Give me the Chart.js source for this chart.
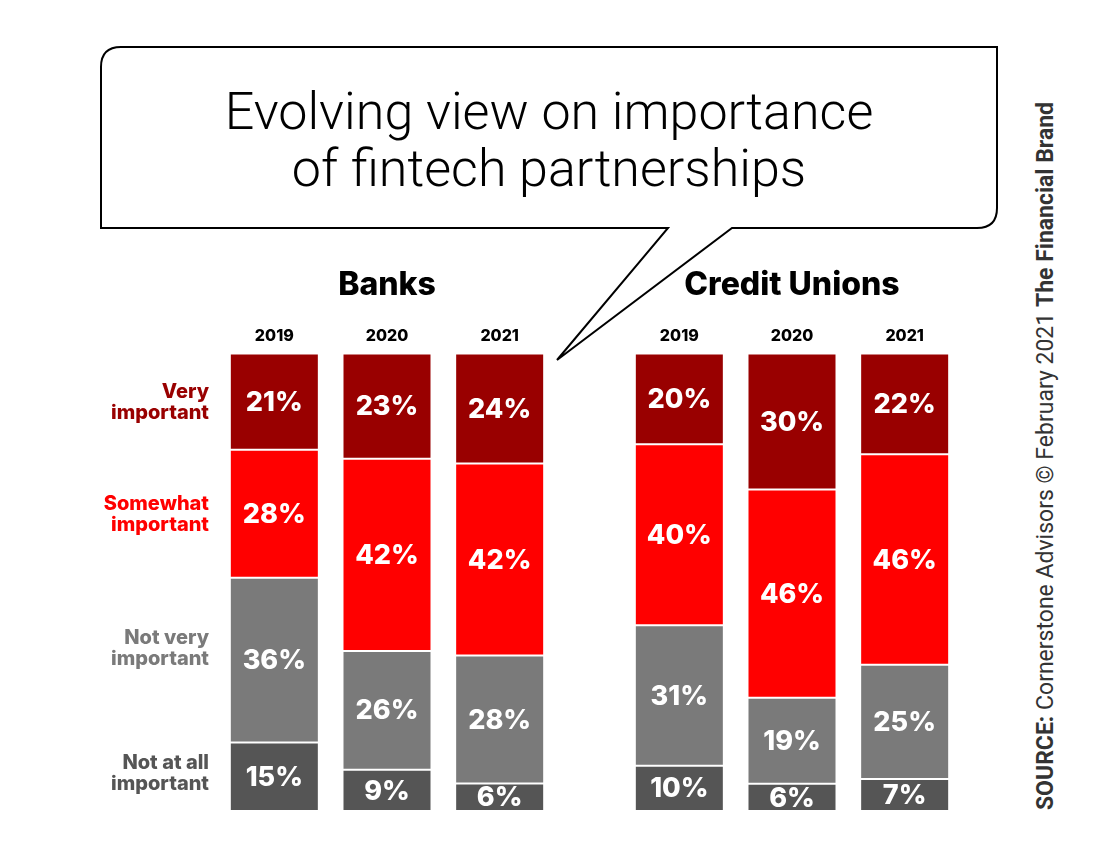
<!DOCTYPE html>
<html>
<head>
<meta charset="utf-8">
<script src="https://cdn.jsdelivr.net/npm/chart.js@4"></script>
<style>
  body { margin: 0; background: #fff; }
  #page { position: relative; width: 1100px; height: 861px; overflow: hidden; }
  #bubble { position: absolute; left: 0; top: 0; }
  #headline {
    position: absolute; left: 101px; top: 83px; width: 896px;
    text-align: center; font: 300 52px Roboto, sans-serif; line-height: 57px; color: #000;
  }
  #source {
    position: absolute; left: 1045px; top: 456px; white-space: nowrap;
    transform: translate(-50%, -50%) rotate(-90deg);
    font: 23px Roboto, sans-serif; color: #333;
  }
  #banksBox { position: absolute; left: 100px; top: 255px; width: 460px; height: 565px; }
  #cuBox { position: absolute; left: 600px; top: 255px; width: 400px; height: 565px; }
</style>
</head>
<body>
<div id="page">
  <svg id="bubble" width="1100" height="861">
    <path d="M121 47 L997 47 L997 208 Q997 228 977 228 L732 228 L557 360 L668 228 L101 228 L101 67 Q101 47 121 47 Z"
          fill="#fff" stroke="#000" stroke-width="2" stroke-linejoin="miter"/>
  </svg>
  <div id="headline">Evolving view on importance<br>of fintech partnerships</div>
  <div id="source"><b>SOURCE:</b> Cornerstone Advisors © February 2021 <b>The Financial Brand</b></div>
  <div id="banksBox"><canvas id="banks"></canvas></div>
  <div id="cuBox"><canvas id="cu"></canvas></div>
</div>
<script>
const years = ['2019', '2020', '2021'];
const levels = ['Not at all important', 'Not very important', 'Somewhat important', 'Very important'];
const levelLines = [['Not at all', 'important'], ['Not very', 'important'], ['Somewhat', 'important'], ['Very', 'important']];
const colors = ['#555555', '#7a7a7a', '#ff0000', '#990000'];

// Banks
const banksNotAtAll = [15, 9, 6];
const banksNotVery = [36, 26, 28];
const banksSomewhat = [28, 42, 42];
const banksVery = [21, 23, 24];

// Credit unions
const cuNotAtAll = [10, 6, 7];
const cuNotVery = [31, 19, 25];
const cuSomewhat = [40, 46, 46];
const cuVery = [20, 30, 22];

const boldFont = 'Inter, Roboto, sans-serif';

// bars fill the full height, so each column is scaled to its own total
function shares(series) {
    const totals = years.map((y, i) => series.reduce((s, arr) => s + arr[i], 0));
    return series.map(arr => arr.map((v, i) => v / totals[i] * 100));
}

const valueLabels = {
    id: 'valueLabels',
    afterDatasetsDraw(chart) {
        const ctx = chart.ctx;
        ctx.save();
        ctx.fillStyle = '#fff';
        ctx.font = '800 27px ' + boldFont;
        ctx.textAlign = 'center';
        ctx.textBaseline = 'middle';
        chart.data.datasets.forEach((ds, di) => {
            chart.getDatasetMeta(di).data.forEach((bar, i) => {
                ctx.fillText(ds.raw[i] + '%', bar.x, (bar.y + bar.base) / 2 + 1);
            });
        });
        ctx.restore();
    }
};

const sideLabels = {
    id: 'sideLabels',
    afterDatasetsDraw(chart, args, opts) {
        if (!opts.show) return;
        const ctx = chart.ctx;
        ctx.save();
        ctx.font = '800 20px ' + boldFont;
        ctx.textAlign = 'right';
        ctx.textBaseline = 'middle';
        const nudge = [-4, -12, 0, 0]; // labels sit a little above the middle of the lower blocks
        chart.data.datasets.forEach((ds, di) => {
            const bar = chart.getDatasetMeta(di).data[0];
            const mid = (bar.y + bar.base) / 2 + nudge[di];
            ctx.fillStyle = colors[di];
            levelLines[di].forEach((line, li) => {
                ctx.fillText(line, chart.chartArea.left - 9, mid - 10 + li * 21);
            });
        });
        ctx.restore();
    }
};

function drawGroup(id, title, series, pad, showSide) {
    const pct = shares(series);
    new Chart(document.getElementById(id), {
        type: 'bar',
        data: {
            labels: years,
            datasets: levels.map((name, i) => ({
                label: name,
                data: pct[i],
                raw: series[i],
                backgroundColor: colors[i],
                borderColor: 'rgba(255,255,255,0.2)',
                borderWidth: 1,
                borderSkipped: false,
                barPercentage: 0.79,
                categoryPercentage: 1
            }))
        },
        options: {
            responsive: true,
            maintainAspectRatio: false,
            animation: false,
            layout: { padding: pad },
            plugins: {
                legend: { display: false },
                tooltip: { enabled: false },
                title: {
                    display: true,
                    text: title,
                    fullSize: false,
                    color: '#000',
                    font: { family: boldFont, size: 32, weight: '800' },
                    padding: { top: 11, bottom: 14 }
                },
                sideLabels: { show: showSide }
            },
            scales: {
                x: {
                    stacked: true,
                    position: 'top',
                    grid: { display: false, drawTicks: false },
                    border: { display: false },
                    ticks: { color: '#000', padding: 8, font: { family: boldFont, size: 16, weight: '800' } }
                },
                y: {
                    stacked: true,
                    display: false,
                    min: 0,
                    max: 100
                }
            }
        },
        plugins: [valueLabels, sideLabels]
    });
}

drawGroup('banks', 'Banks', [banksNotAtAll, banksNotVery, banksSomewhat, banksVery],
    { left: 118, right: 4, bottom: 9 }, true);
drawGroup('cu', 'Credit Unions', [cuNotAtAll, cuNotVery, cuSomewhat, cuVery],
    { left: 23, right: 39, bottom: 9 }, false);
</script>
</body>
</html>
